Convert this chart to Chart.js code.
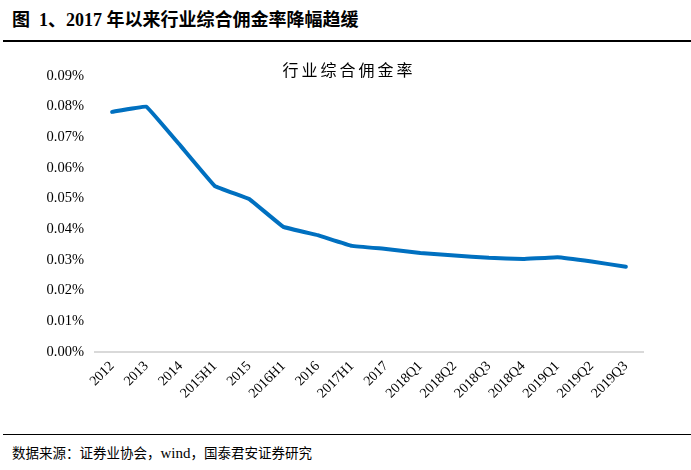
<!DOCTYPE html>
<html>
<head>
<meta charset="utf-8">
<script src="https://cdn.jsdelivr.net/npm/chart.js@4.4.0/dist/chart.umd.min.js"></script>
<style>
html,body{margin:0;padding:0;background:#fff;width:691px;height:470px;overflow:hidden;}
#head{position:absolute;left:12px;top:5px;font-family:"Liberation Serif","Noto Sans CJK SC",serif;font-weight:bold;font-size:18px;color:#000;white-space:pre;}
#head .cjk{font-family:"Noto Sans CJK SC",sans-serif;}
#line1{position:absolute;left:3px;top:40px;width:688px;height:1.5px;background:#000;}
#line2{position:absolute;left:3px;top:434px;width:688px;height:1px;background:#000;}
#foot{position:absolute;left:12px;top:442px;font-family:"Noto Sans CJK SC",sans-serif;font-size:13.5px;color:#000;white-space:nowrap;}
#foot .lat{font-family:"Liberation Serif",serif;font-size:15px;}
#wrap{position:absolute;left:0;top:45px;width:691px;height:385px;}
</style>
</head>
<body>
<div id="head"><span class="cjk">图</span>  1<span class="cjk">、</span>2017 <span class="cjk">年以来行业综合佣金率降幅趋缓</span></div>
<div id="line1"></div>
<div id="wrap"><canvas id="c" width="691" height="385"></canvas></div>
<div id="line2"></div>
<div id="foot">数据来源：证券业协会，<span class="lat">wind</span>，国泰君安证券研究</div>
<script>
const categories = ["2012","2013","2014","2015H1","2015","2016H1","2016","2017H1","2017","2018Q1","2018Q2","2018Q3","2018Q4","2019Q1","2019Q2","2019Q3"];
const commissionRate = [0.0783,0.0800,0.0672,0.0541,0.0499,0.0408,0.0381,0.0346,0.0336,0.0323,0.0315,0.0307,0.0303,0.0309,0.0295,0.0278];
const yTicks = [0,0.01,0.02,0.03,0.04,0.05,0.06,0.07,0.08,0.09];
const chartTitle = "行业综合佣金率";

const titlePlugin = {
  id: 'customTitle',
  afterDraw(chart) {
    const ctx = chart.ctx;
    ctx.save();
    ctx.font = '16px "Noto Sans CJK SC", sans-serif';
    ctx.fillStyle = '#000';
    ctx.textAlign = 'center';
    ctx.textBaseline = 'middle';
    try { ctx.letterSpacing = '3px'; } catch(e) {}
    ctx.fillText(chartTitle, 349, 25);
    ctx.restore();
  }
};

new Chart(document.getElementById('c'), {
  type: 'line',
  data: {
    labels: categories,
    datasets: [{
      data: commissionRate,
      borderColor: '#0070C0',
      borderWidth: 4,
      pointRadius: 0,
      pointHoverRadius: 0,
      tension: 0.05,
      fill: false,
      borderCapStyle: 'round',
      borderJoinStyle: 'round'
    }]
  },
  options: {
    responsive: false,
    animation: false,
    events: [],
    layout: { padding: { top: 31, right: 48, left: 0, bottom: 0 } },
    plugins: { legend: { display: false }, tooltip: { enabled: false }, title: { display: false } },
    scales: {
      x: {
        offset: true,
        grid: { display: false, drawTicks: false },
        border: { display: true, color: '#d9d9d9', width: 2 },
        ticks: {
          minRotation: 45, maxRotation: 45, autoSkip: false,
          color: '#000', padding: 6,
          font: { family: '"Liberation Serif", serif', size: 14 }
        },
        afterFit(s) { s.height = 78; }
      },
      y: {
        min: 0, max: 0.09,
        afterBuildTicks(s) { s.ticks = yTicks.map(v => ({ value: v })); },
        grid: { display: false, drawTicks: false },
        border: { display: false },
        ticks: {
          color: '#000', padding: 11,
          font: { family: '"Liberation Serif", serif', size: 14.5 },
          callback: v => v.toFixed(2) + '%'
        },
        afterFit(s) { s.width = 95; }
      }
    }
  },
  plugins: [titlePlugin]
});
</script>
</body>
</html>
